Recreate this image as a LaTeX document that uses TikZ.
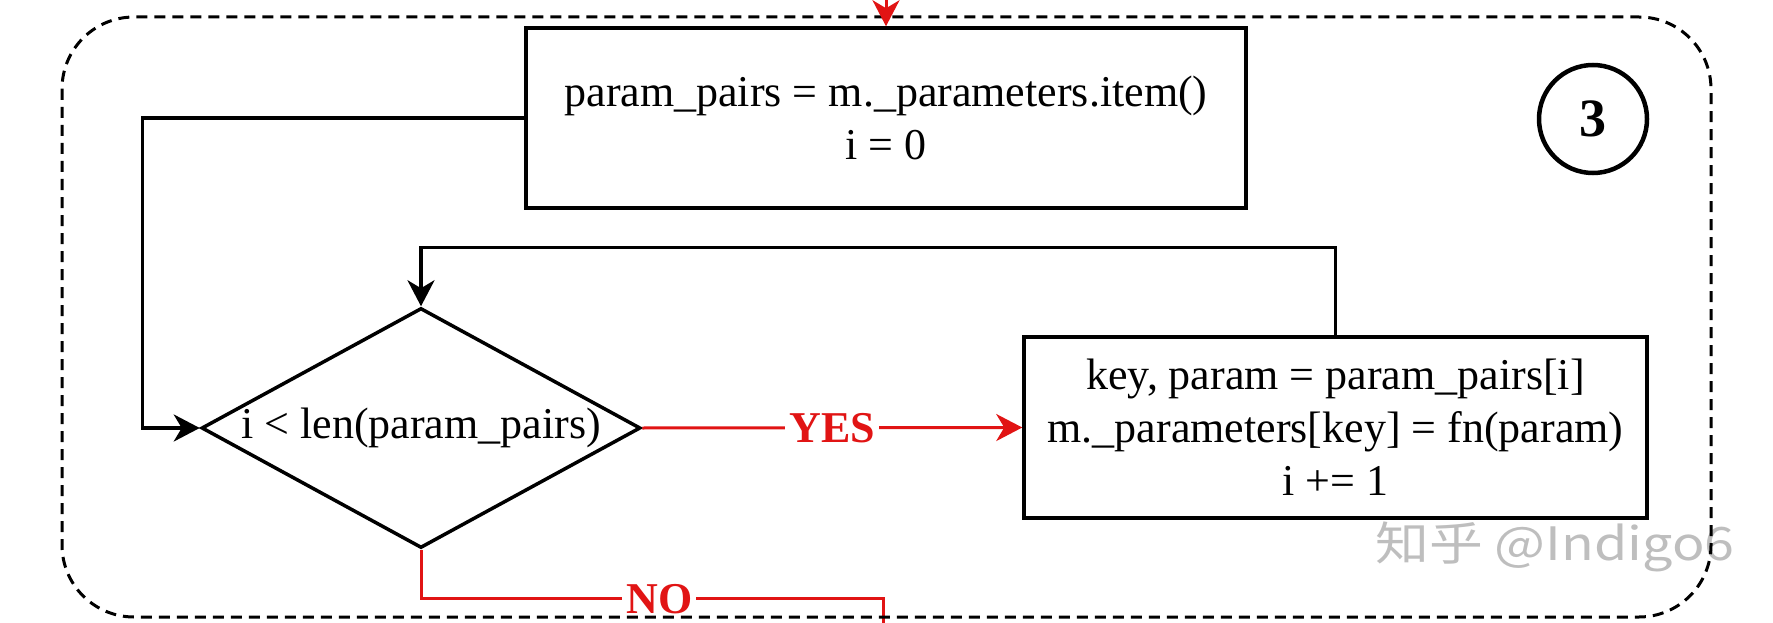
\documentclass[tikz,border=0pt]{standalone}
\usepackage{fontspec}
\setmainfont{Liberation Serif}
\newfontfamily\cjk{Noto Sans CJK SC}
\usetikzlibrary{shapes.geometric,arrows.meta}
\definecolor{flowred}{RGB}{225,20,20}
\definecolor{markgray}{RGB}{190,190,190}

\tikzset{
  codefont/.style={font=\fontsize{44}{53}\selectfont},
  procbox/.style={draw, line width=3.5pt, align=center, inner sep=0pt, codefont},
  decision/.style={diamond, draw, line width=3.5pt, inner sep=0pt, codefont},
  flow/.style={line width=3.5pt, -{Stealth[length=26pt,width=27pt,inset=8pt]}},
  redline/.style={draw=flowred, line width=3pt},
  redflow/.style={redline, -{Stealth[length=26pt,width=27pt,inset=8pt]}, flowred},
  flowlabel/.style={fill=white, inner xsep=4pt, inner ysep=0pt, text=flowred, font=\fontsize{44}{53}\selectfont\bfseries},
  groupbox/.style={line width=3pt, dash pattern=on 11pt off 7pt, rounded corners=72pt}
}

\begin{document}
\begin{tikzpicture}[x=1pt, y=-1pt]
    \useasboundingbox (0,0) rectangle (1773,623);
    \clip (0,0) rectangle (1773,623);

    % Init box
    \node[procbox, minimum width=720pt, minimum height=180pt] (init) at (886,118)
        {param\_pairs = m.\_parameters.item()\\ i = 0};

    % Step number
    \node[circle, draw, line width=4.5pt, minimum size=108pt, inner sep=0pt,
          font=\fontsize{54}{60}\selectfont\bfseries] (stepnum) at (1593,119) {3};

    % Loop condition
    \node[decision, minimum width=439pt, minimum height=240pt] (cond) at (421,428)
        {\makebox[0pt]{i < len(param\_pairs)}};

    % Loop body
    \node[procbox, minimum width=623pt, minimum height=181pt] (body) at (1335.5,427.5)
        {key, param = param\_pairs[i]\\ m.\_parameters[key] = fn(param)\\ i += 1};

    % Watermark
    \node[anchor=base west, inner sep=0pt, text=markgray, font=\cjk\fontsize{46}{52}\selectfont]
        (mark) at (1375,560) {\scalebox{1.17}[1]{知乎 @Indigo6}};

    % Entry into loop
    \draw[flow] (init.west) -- ++(-382,0) |- (cond.west);

    % Back to condition
    \draw[flow] (body.north) -- ++(0,-88) -| (cond.north);

    % YES branch
    \draw[redflow] (cond.east) -- node[pos=0.5, flowlabel] {YES} (body.west);

    % NO branch
    \coordinate (noend) at (883,640);
    \draw[redline] (cond.south) -- ++(0,49) -| node[pos=0.258, flowlabel] {NO} (noend);

    % Group frame
    \draw[groupbox] (62,17) rectangle (1711,617);

    % Coming in from above
    \coordinate (topin) at (886,-20);
    \draw[redflow] (topin) -- (init.north);
\end{tikzpicture}
\end{document}
